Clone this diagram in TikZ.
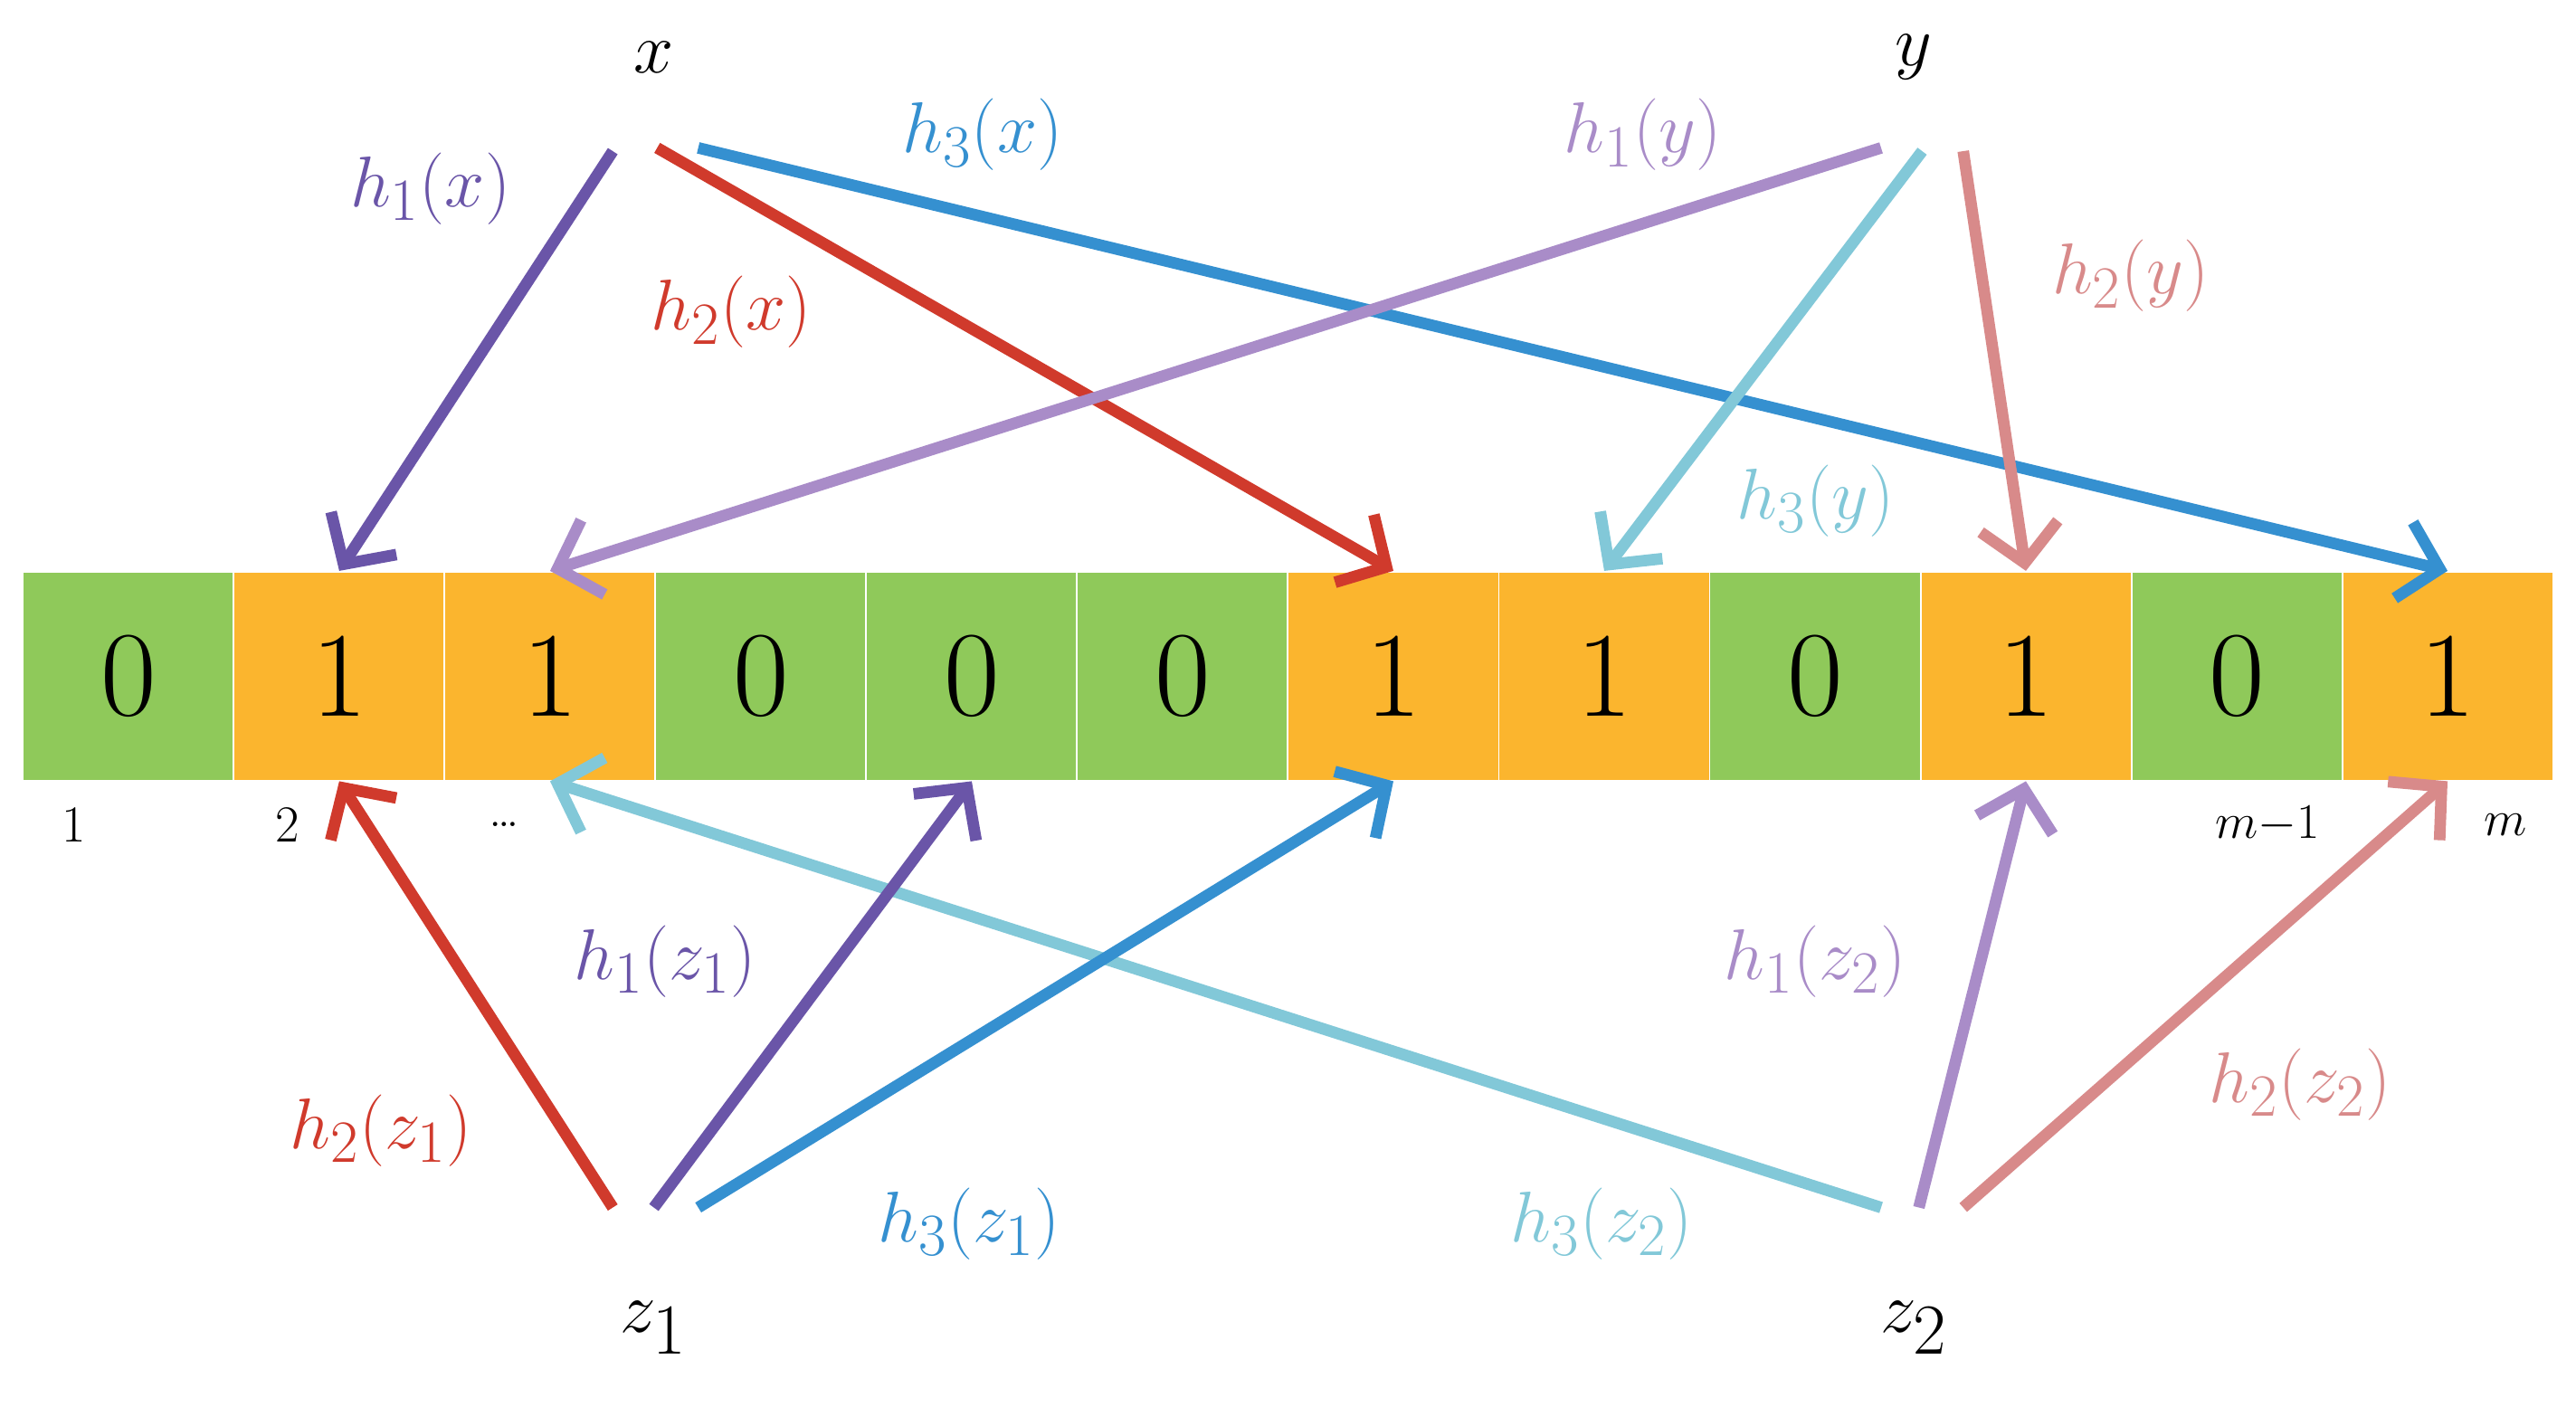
\documentclass[tikz,border=0pt]{standalone}
\usetikzlibrary{arrows.meta}
\definecolor{cg}{HTML}{8FC95A}
\definecolor{co}{HTML}{FBB52E}
\definecolor{cpur}{HTML}{6A55A8}
\definecolor{cred}{HTML}{D03A2C}
\definecolor{cblu}{HTML}{3590D0}
\definecolor{clav}{HTML}{A98CC8}
\definecolor{ccya}{HTML}{82C8D8}
\definecolor{cpnk}{HTML}{D88A8A}
\begin{document}
\begin{tikzpicture}[x=0.02cm,y=-0.02cm,
  cell/.style={minimum width=128.3*0.02cm,minimum height=127*0.02cm,draw=white,line width=0.6pt,inner sep=0pt,font=\fontsize{42}{48}\selectfont},
  arr/.style={line width=4pt,-{Straight Barb[length=0.45cm,width=0.95cm,line width=4pt]}},
  lab/.style={font=\fontsize{30}{36}\selectfont},
  big/.style={font=\fontsize{48}{56}\selectfont},
  idx/.style={font=\fontsize{18}{22}\selectfont}]
\useasboundingbox (0,0) rectangle (1568,856);
\foreach \v/\c [count=\i] in {0/cg,1/co,1/co,0/cg,0/cg,0/cg,1/co,1/co,0/cg,1/co,0/cg,1/co}{
  \node[cell,fill=\c] (c\i) at ({14+128.33*(\i-0.5)},411.5) {\v};
}
\node[idx] (n1) at (45,502) {1};
\node[idx] (n2) at (175,502) {2};
\node[idx] (n3) at (307,502) {\dots};
\node[idx] (n4) at (1380,502) {$m{-}1$};
\node[idx] (n5) at (1525,502) {$m$};
\node[big] (x) at (398,35) {$x$};
\node[big] (y) at (1165,35) {$y$};
\node[big] (z1) at (398,808) {$z_1$};
\node[big] (z2) at (1165,808) {$z_2$};
\coordinate (xa) at (373,92); \coordinate (xb) at (400,90); \coordinate (xc) at (425,90);
\coordinate (ya) at (1145,90); \coordinate (yb) at (1170,92); \coordinate (yc) at (1195,92);
\coordinate (za) at (373,735); \coordinate (zb) at (398,735); \coordinate (zc) at (425,735);
\coordinate (wa) at (1145,735); \coordinate (wb) at (1168,735); \coordinate (wc) at (1195,735);
\draw[arr,cblu] (xc) -- (c12.north);
\draw[arr,cred] (xb) -- (c7.north);
\draw[arr,cpur] (xa) -- (c2.north);
\draw[arr,clav] (ya) -- (c3.north);
\draw[arr,ccya] (yb) -- (c8.north);
\draw[arr,cpnk] (yc) -- (c10.north);
\draw[arr,ccya] (wa) -- (c3.south);
\draw[arr,cred] (za) -- (c2.south);
\draw[arr,cpur] (zb) -- (c5.south);
\draw[arr,cblu] (zc) -- (c7.south);
\draw[arr,clav] (wb) -- (c10.south);
\draw[arr,cpnk] (wc) -- (c12.south);
\node[lab,cpur] (l1) at (262,115) {$h_1(x)$};
\node[lab,cred] (l2) at (445,190) {$h_2(x)$};
\node[lab,cblu] (l3) at (598,82) {$h_3(x)$};
\node[lab,clav] (l4) at (1000,82) {$h_1(y)$};
\node[lab,cpnk] (l5) at (1297,168) {$h_2(y)$};
\node[lab,ccya] (l6) at (1105,305) {$h_3(y)$};
\node[lab,cpur] (l7) at (405,585) {$h_1(z_1)$};
\node[lab,cred] (l8) at (232,688) {$h_2(z_1)$};
\node[lab,cblu] (l9) at (590,745) {$h_3(z_1)$};
\node[lab,clav] (l10) at (1105,585) {$h_1(z_2)$};
\node[lab,cpnk] (l11) at (1400,660) {$h_2(z_2)$};
\node[lab,ccya] (l12) at (975,745) {$h_3(z_2)$};
\end{tikzpicture}
\end{document}
